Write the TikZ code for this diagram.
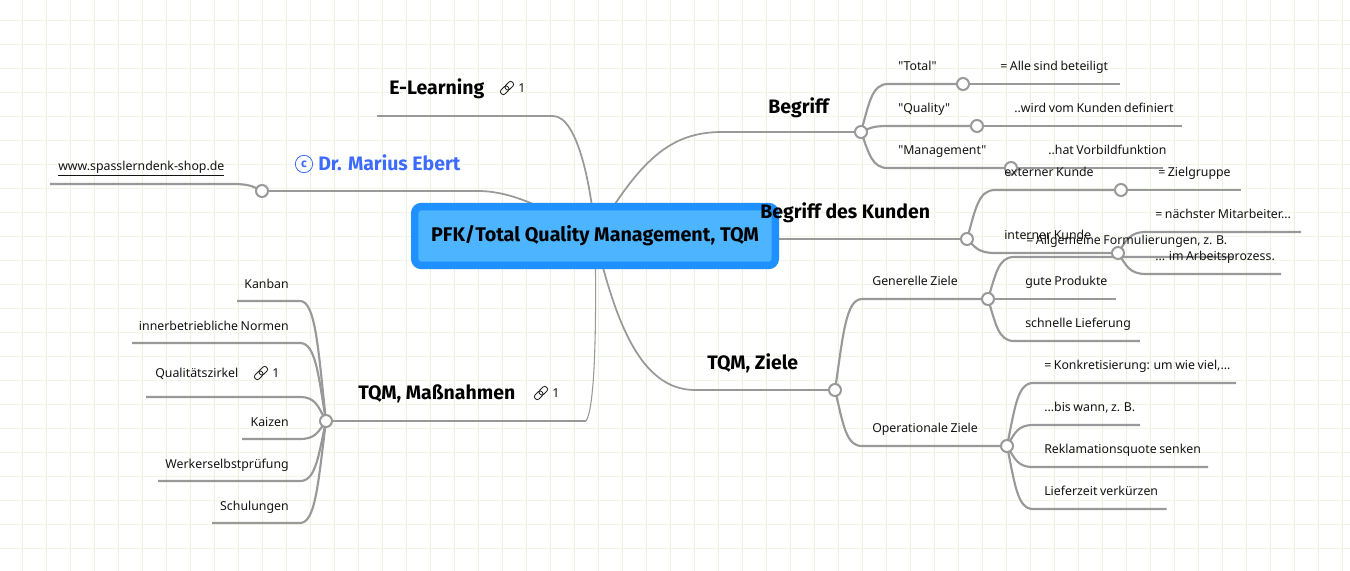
\documentclass[tikz,border=0pt]{standalone}
\usepackage{fontspec}
\setmainfont{Noto Sans}
\newfontfamily\bodyfont{Noto Sans}[WordSpace=0.8]
\newfontfamily\headfont{Fira Sans}
\usetikzlibrary{calc}
\definecolor{gridc}{HTML}{E9F2DC}
\definecolor{linec}{HTML}{999999}
\definecolor{rootout}{HTML}{1E90FF}
\definecolor{rootin}{HTML}{4DB5FF}
\definecolor{bluet}{HTML}{3D6BFF}
\pgfdeclarelayer{lines}
\pgfsetlayers{lines,main}
\tikzset{
 x=0.75pt,y=-0.75pt,
 conn/.style={draw=linec,line width=1.6pt},
 rootconn/.style={draw=linec,line width=1.3pt},
 thinconn/.style={draw=linec,line width=0.8pt},
 dot/.style={circle,draw=linec,fill=white,line width=1.5pt,minimum size=9pt,inner sep=0pt},
 body/.style={inner sep=0pt,yshift=-1.1pt,font=\fontsize{9.25pt}{11pt}\bodyfont,text=black!92},
 bodyl/.style={body,anchor=mid west},
 bodyr/.style={body,anchor=mid east},
 big/.style={inner sep=0pt,yshift=-2.3pt,anchor=mid west,font=\fontsize{14.6pt}{17pt}\headfont\bfseries,text=black},
 linkpic/.pic={\draw[line width=0.65pt,rounded corners=1.8pt,rotate=45,black!85] (-8,-2.8) rectangle (1.5,2.8) (-1.5,-2.8) rectangle (8,2.8);},
 rootbox/.style={draw=rootout,fill=rootin,line width=5.6pt,rounded corners=5pt,minimum width=270.4pt,minimum height=44.2pt,inner sep=0pt,font=\fontsize{14.8pt}{17pt}\headfont\bfseries,text=black},
}
\newcommand{\branch}[3]{\draw[conn] let \p1=(#1.center),\p2=(#2) in (\p1) .. controls ({\x1+0.3*(\x2-\x1)},{\y1+0.6*(\y2-\y1)}) and ({\x2-0.6*(\x2-\x1)},\y2) .. (\p2) -- (#3);}
\begin{document}
\begin{tikzpicture}
\useasboundingbox (0,0) rectangle (1350,571);
\begin{pgfonlayer}{lines}
\fill[white] (0,0) rectangle (1350,571);
\foreach \i in {0,...,55} {\draw[gridc,line width=0.75pt] ({22.3+24*\i},0) -- ({22.3+24*\i},571);}
\foreach \i in {0,...,23} {\draw[gridc!70,line width=0.75pt] (0,{20.3+24*\i}) -- (1350,{20.3+24*\i});}
\end{pgfonlayer}

% root and dots
\node[rootbox] (root) at (595,236) {\raisebox{-1.2pt}{PFK/Total Quality Management, TQM}};
\node[dot] (dW) at (262,191) {};
\node[dot] (dB) at (861,132) {};
\node[dot] (dT) at (963,84) {};
\node[dot] (dQ) at (977,126) {};
\node[dot] (dM) at (1011,168) {};
\node[dot] (dK) at (967,239) {};
\node[dot] (dX) at (1121,190) {};
\node[dot] (dI) at (1118,253) {};
\node[dot] (dZ) at (835,390) {};
\node[dot] (dG) at (988,299) {};
\node[dot] (dO) at (1007,446) {};
\node[dot] (dN) at (326,421) {};

% free ends and knees
\coordinate (kE) at (553,116); \coordinate (eE) at (377,116);
\coordinate (kW) at (478,191);
\coordinate (kWW) at (233,184); \coordinate (eWW) at (50,184);
\coordinate (kB) at (722,132);
\coordinate (kT) at (888,84); \coordinate (eT) at (1120,84);
\coordinate (kQ) at (888,126); \coordinate (eQ) at (1182,126);
\coordinate (kM) at (888,168); \coordinate (eM) at (1163,168);
\coordinate (kX) at (995,190); \coordinate (eX) at (1240.5,190);
\coordinate (kI) at (995,253);
\coordinate (kU) at (1146,232); \coordinate (eU) at (1301,232);
\coordinate (kL) at (1146,274); \coordinate (eL) at (1281,274);
\coordinate (kZ) at (695,390);
\coordinate (kG) at (862,299);
\coordinate (kO) at (862,446);
\coordinate (kG1) at (1014,257); \coordinate (eG1) at (1233,257);
\coordinate (eG2) at (1115.5,299);
\coordinate (kG3) at (1014,341); \coordinate (eG3) at (1140,341);
\coordinate (kO1) at (1033,383); \coordinate (eO1) at (1236,383);
\coordinate (kO2) at (1033,425); \coordinate (eO2) at (1140,425);
\coordinate (kO3) at (1033,467); \coordinate (eO3) at (1208,467);
\coordinate (kO4) at (1033,509); \coordinate (eO4) at (1166.5,509);
\coordinate (kM0) at (586,421);
\coordinate (kN1) at (300,301); \coordinate (eN1) at (237,301);
\coordinate (kN2) at (300,343); \coordinate (eN2) at (132,343);
\coordinate (kN3) at (300,397); \coordinate (eN3) at (146,397);
\coordinate (kN4) at (300,439); \coordinate (eN4) at (242,439);
\coordinate (kN5) at (300,481); \coordinate (eN5) at (158,481);
\coordinate (kN6) at (300,523); \coordinate (eN6) at (212,523);

\begin{pgfonlayer}{lines}
% from the root
\draw[rootconn] (root.center) .. controls (592,190) and (578,116) .. (kE);
\draw[conn] (kE) -- (eE);
\draw[rootconn] (root.center) .. controls (560,218) and (520,191) .. (kW);
\draw[conn] (kW) -- (dW);
\branch{dW}{kWW}{eWW}
\draw[rootconn] (root.center) .. controls (640,160) and (670,132) .. (kB);
\draw[conn] (kB) -- (dB);
\draw[conn] (root.east |- dK) -- (dK);
\draw[rootconn] (root.center) .. controls (615,320) and (640,390) .. (kZ);
\draw[conn] (kZ) -- (dZ);
\draw[thinconn] (root.center) .. controls (597,340) and (594,410) .. (kM0);
\draw[conn] (kM0) -- (dN);
% Begriff
\branch{dB}{kT}{dT} \draw[conn] (dT) -- (eT);
\branch{dB}{kQ}{dQ} \draw[conn] (dQ) -- (eQ);
\branch{dB}{kM}{dM} \draw[conn] (dM) -- (eM);
% Begriff des Kunden
\branch{dK}{kX}{dX} \draw[conn] (dX) -- (eX);
\branch{dK}{kI}{dI}
\branch{dI}{kU}{eU}
\branch{dI}{kL}{eL}
% Ziele
\branch{dZ}{kG}{dG}
\branch{dZ}{kO}{dO}
\branch{dG}{kG1}{eG1}
\draw[conn] (dG) -- (eG2);
\branch{dG}{kG3}{eG3}
\branch{dO}{kO1}{eO1}
\branch{dO}{kO2}{eO2}
\branch{dO}{kO3}{eO3}
\branch{dO}{kO4}{eO4}
% Massnahmen
\branch{dN}{kN1}{eN1}
\branch{dN}{kN2}{eN2}
\branch{dN}{kN3}{eN3}
\branch{dN}{kN4}{eN4}
\branch{dN}{kN5}{eN5}
\branch{dN}{kN6}{eN6}
\end{pgfonlayer}

% headings
\node[big] (tE) at (389,88) {E-Learning};
\pic at (507,88) {linkpic};
\node[body] (nE) at (522,87) {1};
\node[circle,draw=bluet,line width=0.6pt,minimum size=13pt,inner sep=0pt,text=bluet,font=\fontsize{9pt}{10pt}\headfont\bfseries] (cDr) at (304,164) {c};
\node[big,text=bluet] (tDr) at (318,164) {Dr. Marius Ebert};
\node[bodyl] (tW) at (58,165.5) {\underline{www.spasslerndenk-shop.de}};
\node[big] (tB) at (768,107) {Begriff};
\node[big] (tK) at (760,212) {Begriff des Kunden};
\node[big] (tZ) at (707,363) {TQM, Ziele};
\node[big] (tM) at (358,393) {TQM, Maßnahmen};
\pic at (541,393) {linkpic};
\node[body] (nM) at (556,392) {1};

% left leaves
\node[bodyr] at (289,283) {Kanban};
\node[bodyr] at (289,325) {innerbetriebliche Normen};
\node[bodyl] at (155,372) {Qualitätszirkel};
\pic at (261,373) {linkpic};
\node[body] at (276,372) {1};
\node[bodyr] at (289,421) {Kaizen};
\node[bodyr] at (289,463) {Werkerselbstprüfung};
\node[bodyr] at (289,505) {Schulungen};

% right leaves
\node[bodyl] at (898,65) {"Total"};
\node[bodyl] at (1000,65) {= Alle sind beteiligt};
\node[bodyl] at (898,107) {"Quality"};
\node[bodyl] at (1014,107) {..wird vom Kunden definiert};
\node[bodyl] at (898,149) {"Management"};
\node[bodyl] at (1048,149) {..hat Vorbildfunktion};
\node[bodyl] at (1004,171) {externer Kunde};
\node[bodyl] at (1158,171) {= Zielgruppe};
\node[bodyl] at (1155,213) {= nächster Mitarbeiter...};
\node[bodyl] at (1004,234) {interner Kunde};
\node[bodyl] at (1026,239) {= Allgemeine Formulierungen, z. B.};
\node[bodyl] at (1155,255) {... im Arbeitsprozess.};
\node[bodyl] at (872,280) {Generelle Ziele};
\node[bodyl] at (1025,280) {gute Produkte};
\node[bodyl] at (1025,322) {schnelle Lieferung};
\node[bodyl] at (1044,364) {= Konkretisierung: um wie viel,...};
\node[bodyl] at (1044,406) {...bis wann, z. B.};
\node[bodyl] at (1044,448) {Reklamationsquote senken};
\node[bodyl] at (1044,490) {Lieferzeit verkürzen};
\node[bodyl] at (872,427) {Operationale Ziele};
\end{tikzpicture}
\end{document}
